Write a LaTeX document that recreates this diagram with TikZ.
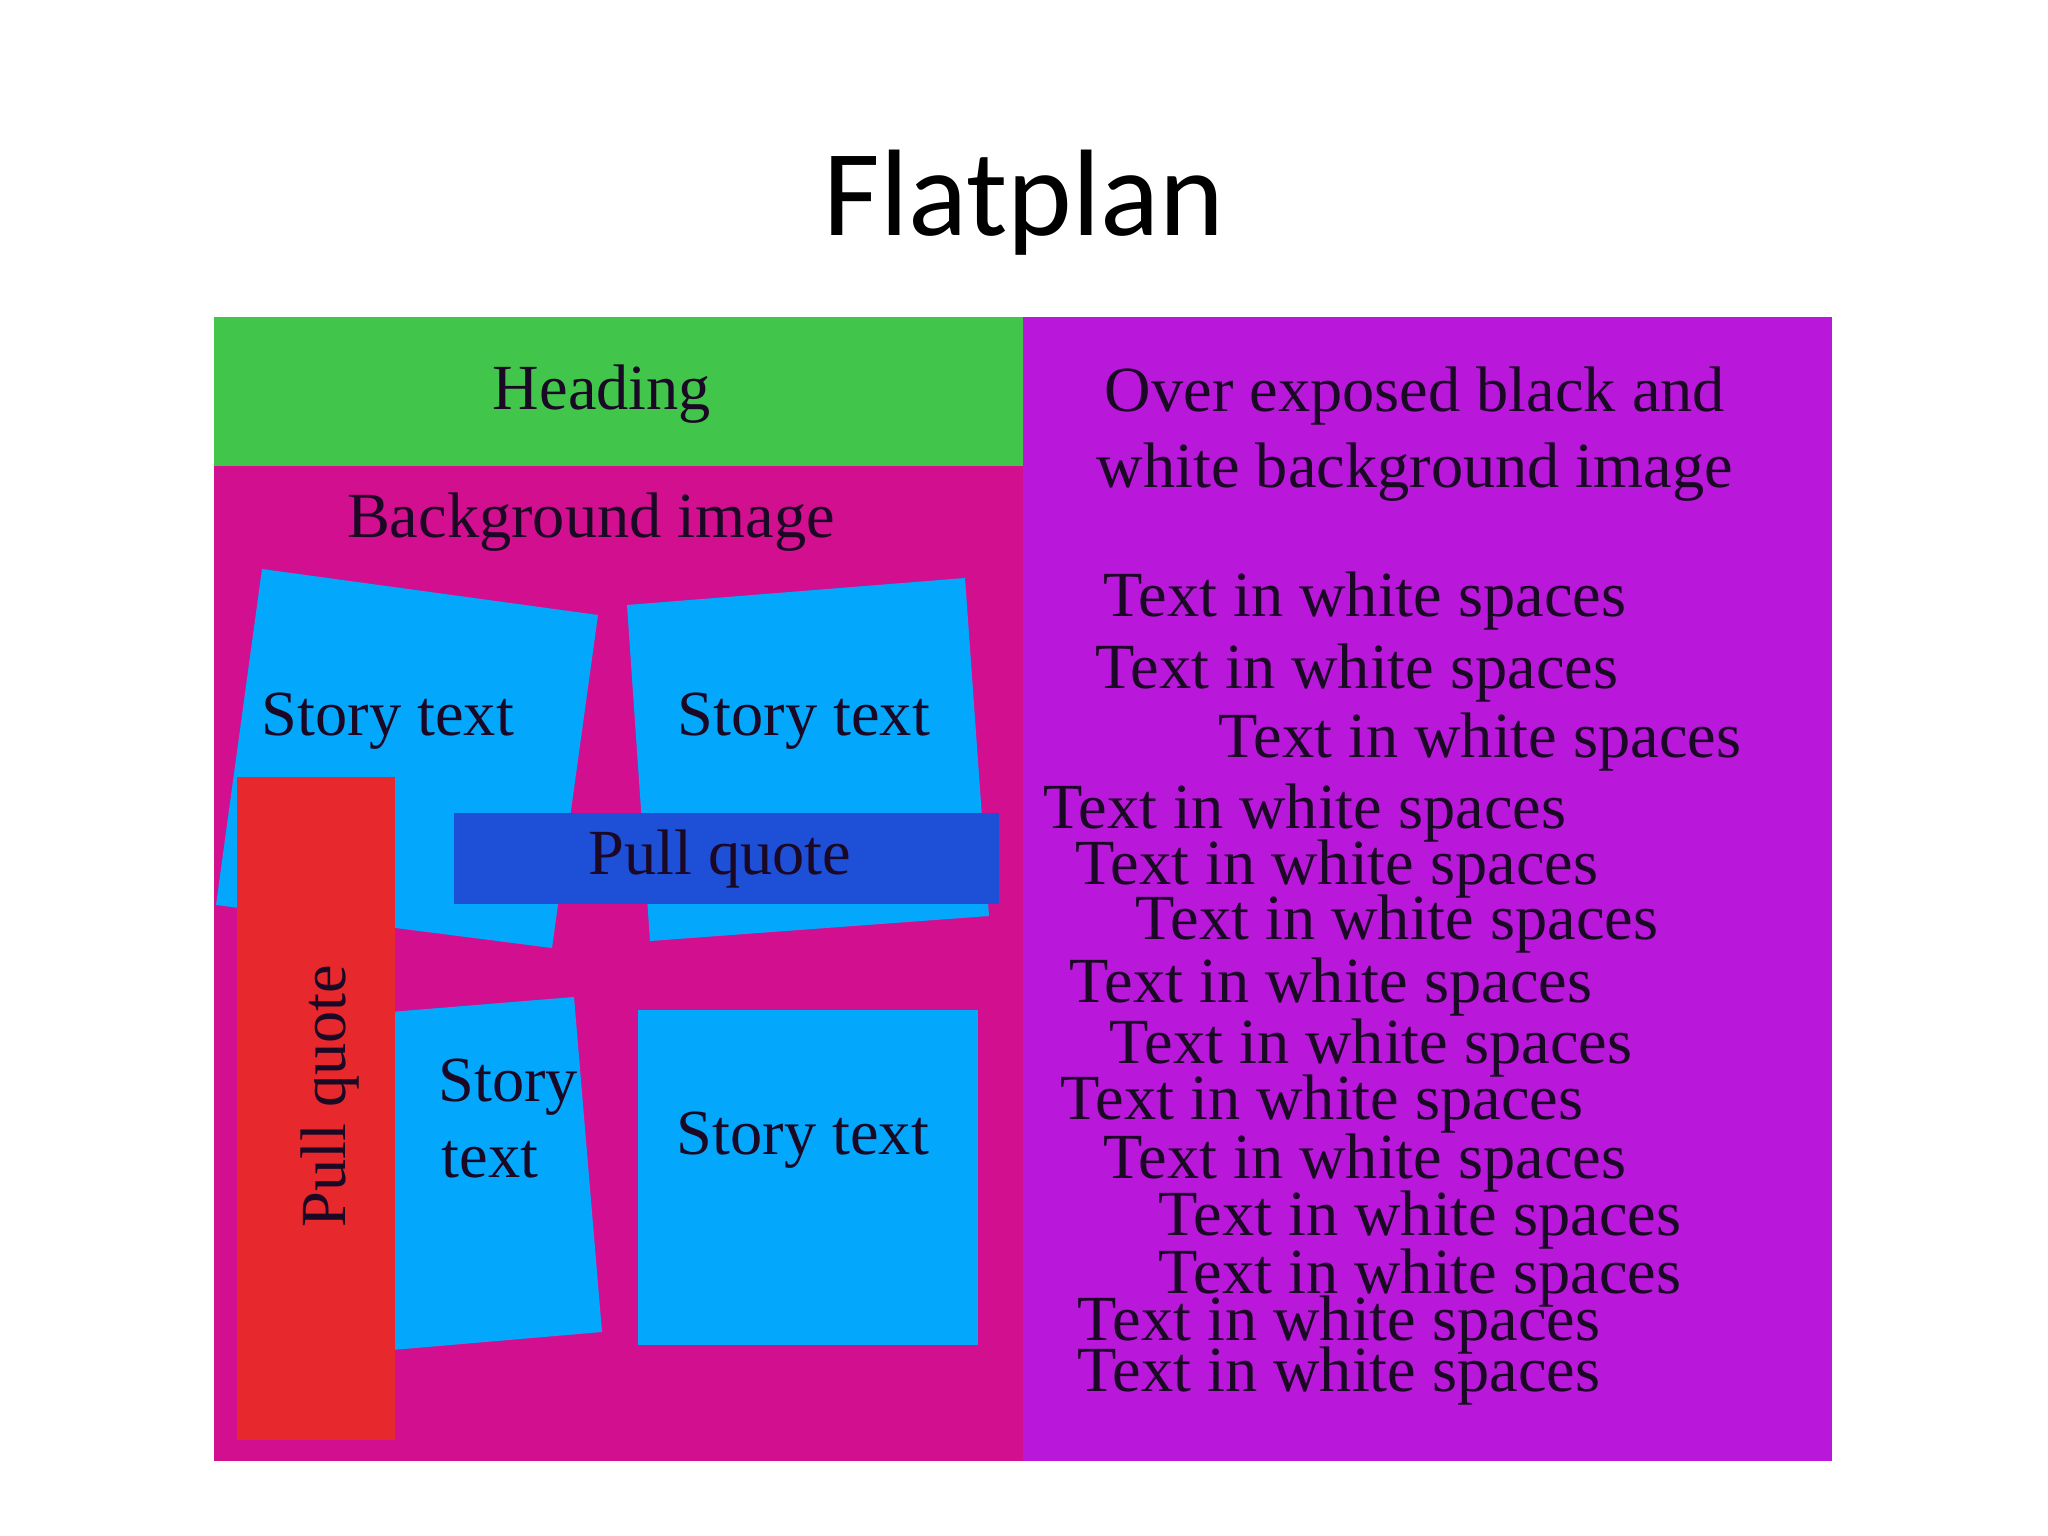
\documentclass[tikz,border=0pt]{standalone}
\usepackage{fontspec}
\setmainfont{Liberation Serif}
\newfontfamily\titlefont{Carlito}
\tikzset{
  copy/.style={anchor=base, inner sep=0pt, text=ink, font=\fontsize{18.3}{21}\selectfont},
  spaceline/.style={copy, anchor=base west},
}
\begin{document}
\begin{tikzpicture}[x=0.01cm, y=-0.01cm]
\definecolor{ink}{HTML}{1A0824}
\useasboundingbox (0,0) rectangle (2048,1536);
\node[anchor=base, inner sep=0pt, font=\titlefont\fontsize{35}{40}\selectfont] (title) at (1024,235) {Flatplan};
% left page
\definecolor{col}{HTML}{D20F8E}
\fill[col] (214,466) rectangle (1023,1461);
\definecolor{col}{HTML}{41C64B}
\fill[col] (214,317) rectangle (1023,466);
\node[copy] (heading) at (602,409) {Heading};
\node[copy] (bgimage) at (591,537) {Background image};
% right page
\definecolor{col}{HTML}{B918DA}
\fill[col] (1023,317) rectangle (1832,1461);
\node[copy] (over1) at (1415,411) {Over exposed black and};
\node[copy] (over2) at (1415,487) {white background image};
\foreach \x/\y [count=\i] in {1103/616, 1095/688, 1218/757, 1043/828, 1075/884, 1135/939, 1069/1002,
  1109/1063, 1060/1119, 1103/1178, 1158/1235, 1158/1293, 1077/1340, 1077/1391}
  \node[spaceline] (line\i) at (\x,\y) {Text in white spaces};
% story boxes
\definecolor{col}{HTML}{03A8FC}
\fill[col] (262,569) -- (598,615) -- (552,948) -- (216,905) -- cycle;
\fill[col] (627,605) -- (965,578) -- (989,916) -- (650,941) -- cycle;
\fill[col] (390,1012) -- (574,997) -- (602,1332) -- (392,1350) -- cycle;
\fill[col] (638,1010) rectangle (978,1345);
\node[copy] (storya) at (388,735) {Story text};
\node[copy] (storyb) at (804,735) {Story text};
\node[copy, anchor=base west] (storyc1) at (438,1101) {Story};
\node[copy, anchor=base west] (storyc2) at (441,1177) {text};
\node[copy] (storyd) at (803,1154) {Story text};
% pull quotes
\definecolor{col}{HTML}{1E4FD7}
\fill[col] (454,813) rectangle (999,904);
\node[copy] (pullh) at (720,874) {Pull quote};
\definecolor{col}{HTML}{E7282D}
\fill[col] (237,777) rectangle (395,1440);
\node[copy, rotate=90] (pullv) at (345,1096) {Pull quote};
\end{tikzpicture}
\end{document}
